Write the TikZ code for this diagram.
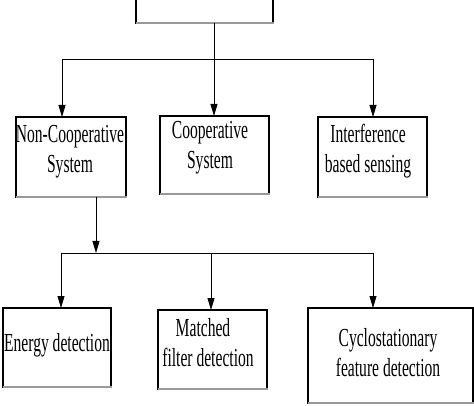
\documentclass[tikz,border=0pt]{standalone}
\usepackage{fontspec}
\setmainfont[FakeStretch=0.6]{Liberation Serif}
\usetikzlibrary{arrows.meta}
\begin{document}
\begin{tikzpicture}[x=1pt,y=-1pt,
  box/.style={draw, line width=1.1pt, inner sep=0pt, outer sep=0pt,
    append after command={(\tikzlastnode.south west) edge[draw=gray!80, line width=2pt, shorten <=-0.5pt, shorten >=-0.5pt] (\tikzlastnode.south east)}},
  txt/.style={align=center, inner sep=0pt, font=\fontsize{26}{30}\selectfont},
  conn/.style={line width=0.8pt},
  arr/.style={conn, -{Triangle[length=12pt,width=7pt]}}]
\useasboundingbox (0,0) rectangle (474,406);
% boxes
\node[box, minimum width=137pt, minimum height=40pt] (top) at (204.5,3) {};
\node[box, minimum width=110pt, minimum height=80pt] (nc) at (71,157) {};
\node[box, minimum width=109pt, minimum height=78pt] (coop) at (214.5,155) {};
\node[box, minimum width=109pt, minimum height=80pt] (intf) at (372.5,157) {};
\node[box, minimum width=108pt, minimum height=79pt] (en) at (57,347.5) {};
\node[box, minimum width=109pt, minimum height=79pt] (mf) at (212.5,349.5) {};
\node[box, minimum width=165pt, minimum height=95pt] (cy) at (390.5,355.5) {};
% texts
\node[txt] (nct) at (70,152) {Non-Cooperative\\System};
\node[txt] (coopt) at (210,148) {Cooperative\\System};
\node[txt] (intft) at (368,151) {Interference\\based sensing};
\node[txt] (ent) at (57,345) {Energy detection};
\node[txt] (mft) at (208,343) {Matched\hspace*{10pt}\\filter detection};
\node[txt] (cyt) at (388,353) {Cyclostationary\\feature detection};
% junctions
\coordinate (a0) at (214,59);
\coordinate (a1) at (62,59);
\coordinate (a3) at (373,59);
\coordinate (b0) at (96,253);
\coordinate (b1) at (61,253);
\coordinate (b2) at (211,253);
\coordinate (b3) at (373,253);
% connectors
\draw[conn] (top.south -| a0) -- (a0);
\draw[conn] (a1) -- (a3);
\draw[arr] (a1) -- (a1 |- nc.north);
\draw[arr] (a0) -- (a0 |- coop.north);
\draw[arr] (a3) -- (a3 |- intf.north);
\draw[arr] (nc.south -| b0) -- (b0);
\draw[conn] (b1) -- (b3);
\draw[arr] (b1) -- (b1 |- en.north);
\draw[arr] (b2) -- (b2 |- mf.north);
\draw[arr] (b3) -- (b3 |- cy.north);
\end{tikzpicture}
\end{document}
